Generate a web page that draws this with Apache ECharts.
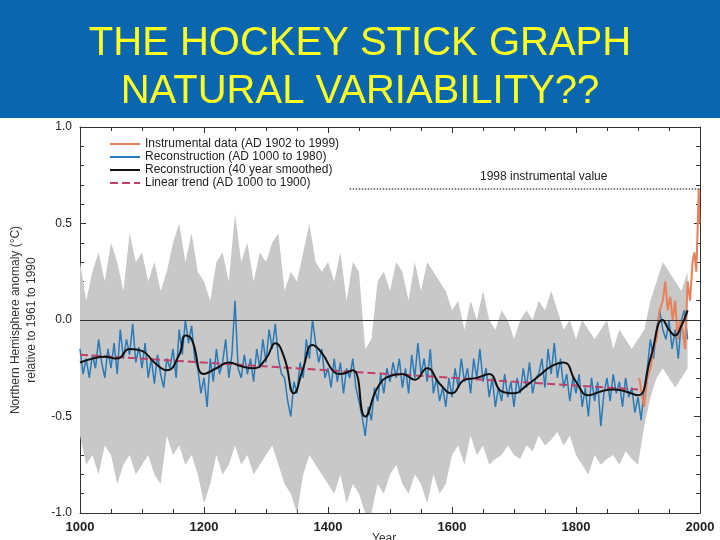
<!DOCTYPE html>
<html>
<head>
<meta charset="utf-8">
<script src="https://cdn.jsdelivr.net/npm/echarts@6/dist/echarts.min.js"></script>
<style>
  html, body { margin: 0; padding: 0; background: #fff; }
  #chart { width: 720px; height: 540px; }
</style>
</head>
<body>
<div id="chart"></div>
<script>
// reconstruction, every 5 years from 1000 to 1980
var reconStart = 1000;
var reconValues = [
  -0.15,-0.28,-0.2,-0.3,-0.18,-0.25,-0.1,-0.22,-0.3,-0.15,
  -0.25,-0.12,-0.28,-0.05,-0.2,-0.1,-0.18,-0.02,-0.22,-0.14,
  -0.25,-0.12,-0.3,-0.2,-0.33,-0.18,-0.28,-0.35,-0.2,-0.25,
  -0.15,-0.3,-0.05,-0.18,0.0,-0.12,-0.03,-0.2,-0.25,-0.38,
  -0.3,-0.45,-0.2,-0.32,-0.15,-0.28,-0.22,-0.1,-0.3,-0.18,
  0.1,-0.25,-0.3,-0.18,-0.28,-0.2,-0.32,-0.15,-0.25,-0.1,
  -0.22,-0.05,-0.15,-0.02,-0.2,-0.28,-0.3,-0.42,-0.5,-0.32,
  -0.38,-0.22,-0.3,-0.1,-0.2,0.0,-0.12,-0.22,-0.15,-0.3,
  -0.25,-0.35,-0.2,-0.32,-0.22,-0.38,-0.25,-0.3,-0.2,-0.35,
  -0.42,-0.5,-0.6,-0.45,-0.52,-0.35,-0.42,-0.28,-0.38,-0.25,
  -0.32,-0.22,-0.3,-0.2,-0.35,-0.25,-0.38,-0.18,-0.3,-0.12,
  -0.28,-0.2,-0.32,-0.15,-0.38,-0.3,-0.42,-0.35,-0.45,-0.3,
  -0.4,-0.25,-0.35,-0.2,-0.32,-0.25,-0.38,-0.2,-0.3,-0.15,
  -0.32,-0.25,-0.4,-0.3,-0.45,-0.35,-0.42,-0.28,-0.4,-0.32,
  -0.45,-0.3,-0.38,-0.25,-0.35,-0.22,-0.38,-0.3,-0.28,-0.2,
  -0.35,-0.15,-0.28,-0.12,-0.3,-0.2,-0.35,-0.28,-0.42,-0.3,
  -0.38,-0.28,-0.45,-0.35,-0.5,-0.3,-0.42,-0.32,-0.55,-0.38,
  -0.3,-0.42,-0.28,-0.38,-0.32,-0.45,-0.3,-0.4,-0.35,-0.48,
  -0.4,-0.52,-0.35,-0.25,-0.1,-0.2,-0.05,0.05,-0.05,-0.1,
  0.0,-0.15,-0.05,-0.2,0.0,0.05,-0.1
];

// uncertainty band, every 10 years
var bandYears = [];
for (var y = 1000; y <= 1980; y += 10) bandYears.push(y);
var bandUpper = [
  0.3,0.1,0.25,0.35,0.2,0.4,0.3,0.15,0.45,0.3,
  0.35,0.2,0.3,0.15,0.25,0.4,0.5,0.3,0.45,0.25,
  0.2,0.1,0.3,0.35,0.2,0.55,0.3,0.4,0.2,0.35,
  0.3,0.4,0.45,0.15,0.25,0.2,0.35,0.5,0.3,0.25,
  0.3,0.2,0.35,0.1,0.3,0.25,-0.15,-0.1,0.2,0.25,
  0.15,0.3,0.25,0.1,0.3,0.15,0.3,0.25,0.2,0.15,
  0.05,0.1,-0.05,0.1,0.0,0.15,0.0,-0.05,0.05,0.0,
  -0.1,0.0,0.05,0.0,0.1,0.05,0.15,0.05,-0.05,0.0,
  -0.1,0.0,-0.05,-0.1,-0.05,0.0,-0.15,-0.05,-0.1,-0.15,
  -0.1,-0.05,0.1,0.2,0.3,0.25,0.2,0.15,0.25
];
var bandLower = [
  -0.6,-0.75,-0.7,-0.8,-0.65,-0.7,-0.85,-0.75,-0.7,-0.8,
  -0.75,-0.7,-0.8,-0.85,-0.6,-0.7,-0.65,-0.75,-0.7,-0.8,
  -0.95,-0.85,-0.7,-0.8,-0.75,-0.65,-0.75,-0.7,-0.8,-0.75,
  -0.7,-0.65,-0.75,-0.85,-0.9,-1.0,-0.8,-0.7,-0.75,-0.8,
  -0.85,-0.9,-0.8,-0.95,-0.85,-0.9,-1.0,-1.0,-0.85,-0.9,
  -0.8,-0.75,-0.85,-0.9,-0.8,-0.85,-0.95,-0.8,-0.9,-0.85,
  -0.7,-0.65,-0.75,-0.6,-0.7,-0.65,-0.75,-0.72,-0.7,-0.65,
  -0.7,-0.72,-0.65,-0.68,-0.6,-0.65,-0.62,-0.58,-0.65,-0.6,
  -0.7,-0.75,-0.8,-0.7,-0.75,-0.72,-0.7,-0.75,-0.68,-0.72,
  -0.75,-0.55,-0.4,-0.3,-0.25,-0.3,-0.35,-0.3,-0.25
];

// 40 year smoothed
var smoothYears = [1000,1020,1040,1060,1080,1100,1120,1140,1160,1170,1180,1200,1220,1240,1260,1280,1300,1315,1330,1345,1360,1375,1390,1410,1420,1440,1460,1480,1500,1520,1540,1560,1580,1600,1620,1640,1660,1680,1700,1720,1740,1760,1780,1800,1820,1840,1860,1880,1900,1920,1940,1950,1960,1970,1980];
var smoothValues = [-0.22,-0.2,-0.19,-0.2,-0.15,-0.16,-0.22,-0.26,-0.18,-0.08,-0.1,-0.28,-0.25,-0.22,-0.24,-0.25,-0.2,-0.12,-0.2,-0.38,-0.25,-0.13,-0.17,-0.27,-0.28,-0.26,-0.5,-0.35,-0.29,-0.28,-0.31,-0.25,-0.33,-0.38,-0.31,-0.3,-0.28,-0.37,-0.38,-0.34,-0.29,-0.24,-0.22,-0.32,-0.39,-0.37,-0.36,-0.37,-0.39,-0.2,0.0,-0.05,-0.08,-0.03,0.05];

// instrumental data
var instYears = [1902,1906,1910,1915,1920,1925,1930,1935,1940,1944,1948,1952,1956,1960,1964,1968,1972,1976,1980,1984,1988,1991,1994,1996,1998,1999];
var instValues = [-0.3,-0.38,-0.45,-0.3,-0.25,-0.15,-0.1,0.05,0.1,0.2,0.05,0.12,0.0,0.1,-0.1,0.0,-0.05,-0.15,0.2,0.1,0.3,0.35,0.25,0.45,0.68,0.5];

var trendYears = [1000, 1900];
var trendValues = [-0.18, -0.36];
var value1998 = 0.68;

function pairs(xs, ys) { return xs.map(function (x, i) { return [x, ys[i]]; }); }
var reconData = reconValues.map(function (v, i) { return [reconStart + 5 * i, v]; });
var bandData = bandYears.map(function (y, i) { return [y, bandLower[i], bandUpper[i]]; });

var font = '"Liberation Sans", Arial';
var tickStyle = { color: '#333' };
function frameAxis(extra) {
  return Object.assign({
    type: 'value', axisLine: { onZero: false, lineStyle: tickStyle },
    axisTick: { inside: true, length: 6, lineStyle: tickStyle },
    splitLine: { show: false }
  }, extra);
}

// the whole band is drawn as one polygon on the first item
function renderBand(params, api) {
  if (params.dataIndex !== 0) return null;
  var top = bandData.map(function (d) { return api.coord([d[0], d[2]]); });
  var bottom = bandData.map(function (d) { return api.coord([d[0], d[1]]); }).reverse();
  return { type: 'polygon', shape: { points: top.concat(bottom) }, style: { fill: '#c8c8c8' } };
}

var chart = echarts.init(document.getElementById('chart'));
chart.setOption({
  animation: false,
  graphic: [
    { type: 'rect', shape: { x: 0, y: 0, width: 720, height: 118 }, style: { fill: '#0b66b0' }, z: -10 },
    { type: 'text', left: 'center', top: 20, style: { text: 'THE HOCKEY STICK GRAPH\nNATURAL VARIABILITY??', fill: '#ffff22', font: '40px ' + font, textAlign: 'center', lineHeight: 48, textShadowColor: 'rgba(0,0,0,0.5)', textShadowOffsetX: 1, textShadowOffsetY: 1 } },
    { type: 'text', left: 480, top: 171, style: { text: '1998 instrumental value', fill: '#222', font: '12px ' + font } },
    { type: 'text', left: 372, top: 533, style: { text: 'Year', fill: '#333', font: '12px ' + font } }
  ],
  grid: { left: 76, right: 20, top: 127, bottom: 27 },
  legend: {
    orient: 'vertical', left: 104, top: 133, itemGap: 1, itemWidth: 30, itemHeight: 8,
    itemStyle: { opacity: 0 },
    textStyle: { fontSize: 12, color: '#222', fontFamily: font },
    data: ['Instrumental data (AD 1902 to 1999)', 'Reconstruction (AD 1000 to 1980)', 'Reconstruction (40 year smoothed)', 'Linear trend (AD 1000 to 1900)']
  },
  xAxis: [
    frameAxis({ min: 1000, max: 2000, interval: 200, minorTick: { show: true, splitNumber: 4, length: 4, lineStyle: tickStyle },
      axisLabel: { color: '#222', fontSize: 13, fontWeight: 'bold', fontFamily: font, formatter: function (v) { return String(v); } } }),
    frameAxis({ position: 'top', min: 1000, max: 2000, interval: 200, minorTick: { show: true, splitNumber: 4, length: 4, lineStyle: tickStyle },
      axisLabel: { show: false } })
  ],
  yAxis: [
    frameAxis({ min: -1, max: 1, interval: 0.5, minorTick: { show: true, splitNumber: 5, length: 4, lineStyle: tickStyle },
      name: 'Northern Hemisphere anomaly (°C)\nrelative to 1961 to 1990', nameLocation: 'middle', nameGap: 40,
      nameTextStyle: { color: '#333', fontSize: 12, fontFamily: font, lineHeight: 16 },
      axisLabel: { color: '#222', fontSize: 12, fontFamily: font, formatter: function (v) { return v.toFixed(1); } } }),
    frameAxis({ position: 'right', min: -1, max: 1, interval: 0.5, minorTick: { show: true, splitNumber: 5, length: 4, lineStyle: tickStyle },
      axisLabel: { show: false } })
  ],
  series: [
    { type: 'custom', name: 'band', data: bandData, renderItem: renderBand, silent: true, clip: true, z: 1 },
    { type: 'line', name: 'Reconstruction (AD 1000 to 1980)', data: reconData, symbol: 'none', color: '#2a7ab8', lineStyle: { width: 1.5, color: '#2a7ab8' }, z: 3 },
    { type: 'line', name: 'Instrumental data (AD 1902 to 1999)', data: pairs(instYears, instValues), symbol: 'none', color: '#e8805a', lineStyle: { width: 2, color: '#e8805a' }, z: 3 },
    { type: 'line', name: 'Linear trend (AD 1000 to 1900)', data: pairs(trendYears, trendValues), symbol: 'none', color: '#c0406a', lineStyle: { width: 2, type: 'dashed', color: '#c0406a' }, z: 4 },
    { type: 'line', name: 'Reconstruction (40 year smoothed)', data: pairs(smoothYears, smoothValues), smooth: 0.5, symbol: 'none', color: '#111', lineStyle: { width: 2, color: '#111' }, z: 5,
      markLine: { symbol: 'none', silent: true, label: { show: false },
        data: [
          [{ coord: [1000, 0], lineStyle: { color: '#333', width: 1, type: 'solid' } }, { coord: [2000, 0] }],
          [{ coord: [1435, value1998], lineStyle: { color: '#555', width: 1.5, type: 'dotted' } }, { coord: [2000, value1998] }]
        ] } }
  ]
});
</script>
</body>
</html>
